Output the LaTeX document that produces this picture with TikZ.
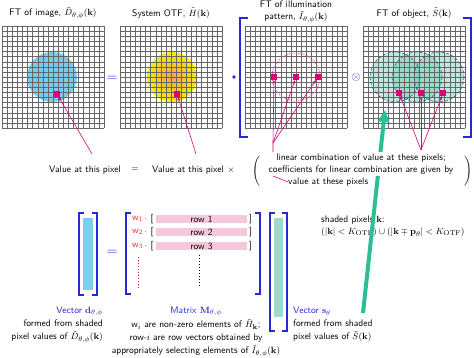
\documentclass[tikz,border=0pt]{standalone}
\usetikzlibrary{arrows.meta}
\definecolor{bbl}{RGB}{40,40,215}
\definecolor{pk}{RGB}{220,0,120}
\definecolor{cyanc}{RGB}{120,205,238}
\definecolor{tealc}{RGB}{46,190,150}
\definecolor{tealf}{RGB}{110,205,178}
\definecolor{rowpk}{RGB}{246,200,220}
\definecolor{barbl}{RGB}{125,205,240}
\definecolor{bargr}{RGB}{155,220,200}
\definecolor{wred}{RGB}{225,40,40}
\definecolor{circdash}{RGB}{40,95,140}
\definecolor{yel}{RGB}{245,238,0}
\definecolor{org}{RGB}{240,165,80}
\tikzset{
  gridl/.style={draw=black!60, line width=0.3pt},
  sq/.style={fill=pk, minimum size=5.5pt, inner sep=0pt},
  pkarrow/.style={draw=pk, line width=0.6pt, -{Stealth[length=4pt,width=3pt]}},
  pkline/.style={draw=pk, line width=0.6pt},
  brk/.style={draw=bbl, line width=1.2pt},
  tealarrow/.style={draw=tealc, line width=4pt, -{Triangle[length=12pt,width=11pt]}},
  bluetxt/.style={text=bbl},
  bigeq/.style={text=bbl, font=\fontsize{15}{15}\selectfont},
}
\begin{document}
\begin{tikzpicture}[x=1pt,y=-1pt,
  every node/.style={font=\fontsize{9.5}{12.5}\selectfont\sffamily, inner sep=0pt}]
\useasboundingbox (0,0) rectangle (474,358);
% circles under grids
\fill[cyanc] (52,77) circle[radius=25];
\shade[inner color=org, outer color=yel] (172,77) circle[radius=25];
\foreach \cx in {395,417,439}
  \fill[tealf, fill opacity=0.45] (\cx,77) circle[radius=25];
% grids
\foreach \gx in {2,120,245,363}{
  \foreach \i in {0,...,20}{
    \draw[gridl] ({\gx+\i*5.1},26) -- ({\gx+\i*5.1},128);
    \draw[gridl] (\gx,{26+\i*5.1}) -- ({\gx+102},{26+\i*5.1});
  }
}
\draw[pk!65, dash pattern=on 1pt off 1.3pt, line width=1pt] (296,77) circle[radius=24];
\foreach \cx in {395,417,439}
  \draw[circdash, densely dashed, line width=0.6pt] (\cx,77) circle[radius=25];
% titles
\node (t1) at (53,13) {FT of image, $\tilde{D}_{\theta,\phi}(\mathbf{k})$};
\node (t2) at (171,13) {System OTF, $\tilde{H}(\mathbf{k})$};
\node[align=center] (t3) at (296,11.8) {FT of illumination\\pattern, $\tilde{I}_{\theta,\phi}(\mathbf{k})$};
\node (t4) at (414,13) {FT of object, $\tilde{S}(\mathbf{k})$};
% operators
\node[bigeq] (eq1) at (112,79) {$=$};
\node[circle, fill=bbl, minimum size=3.8pt] (dt) at (234,77) {};
\node[text=bbl, font=\fontsize{12}{12}\selectfont] (ot) at (356,78) {$\otimes$};
\draw[brk] (248,18) -- (240,18) -- (240,137) -- (248,137);
\draw[brk] (463,18) -- (471,18) -- (471,137) -- (463,137);
% squares
\node[sq] (s1) at (57,94) {};
\node[sq] (s2) at (177,94) {};
\node[sq] (s3a) at (274,77) {};
\node[sq] (s3b) at (296,77) {};
\node[sq] (s3c) at (318,77) {};
\node[sq] (s4a) at (399,93) {};
\node[sq] (s4b) at (421,93) {};
\node[sq] (s4c) at (443,93) {};
% middle text
\node (v1) at (85,170) {Value at this pixel};
\node (eq2) at (135,170) {$=$};
\node (v2) at (188,170) {Value at this pixel};
\node (tm) at (231,170) {$\times$};
\node (lp) at (256,171) {$\Bigg($};
\node (rp) at (468,171) {$\Bigg)$};
\node[anchor=west] (lc3) at (288,182) {value at these pixels};
% pink connectors
\coordinate (c1) at (92,154);
\coordinate (c2) at (196,154);
\coordinate (j3) at (273,143);
\coordinate (k3) at (273,176);
\coordinate (j4) at (421,150);
\draw[pkarrow] (c1) -- (s1);
\draw[pkarrow] (c2) -- (s2);
\foreach \s in {s3a,s3b,s3c} \draw[pkarrow] (j3) -- (\s);
\draw[pkline] (j3) -- (k3) -- (lc3.west);
\foreach \s in {s4a,s4b,s4c} \draw[pkarrow] (j4) -- (\s);
% shaded pixels text
\node[anchor=west] (sp1) at (321,220) {shaded pixels $\mathbf{k}$:};
\node[anchor=west] (sp2) at (321,232) {$(|\mathbf{k}|<K_{\mathrm{OTF}})\cup(|\mathbf{k}\mp\mathbf{p}_{\theta}|<K_{\mathrm{OTF}})$};
% teal arrow
\coordinate (tb) at (363,313);
\coordinate (tt) at (385,110);
\draw[tealarrow] (tb) -- (tt);
\node[fill=white, align=center, inner sep=1pt] (lc) at (361,164) {linear combination of value at these pixels;\\coefficients for linear combination are given by};
% bottom: vector d
\fill[barbl] (83,218) rectangle (93,290);
\draw[brk] (84,213) -- (79,213) -- (79,295) -- (84,295);
\draw[brk] (92,213) -- (97,213) -- (97,295) -- (92,295);
\node[bigeq] (eq3) at (112,253) {$=$};
% matrix
\draw[brk] (131,213) -- (126,213) -- (126,294) -- (131,294);
\draw[brk] (255,213) -- (260,213) -- (260,294) -- (255,294);
\foreach \i/\y in {1/219,2/232,3/246}{
  \node[anchor=west, text=wred] (w\i) at (132,\y) {w$_{\i}$};
  \node (d\i) at (146,\y) {$\cdot$};
  \node (lb\i) at (152,\y) {[};
  \node[fill=rowpk, minimum width=91pt, minimum height=7.5pt] (row\i) at (201.5,\y) {row \i};
  \node (rb\i) at (250.5,\y) {]};
}
\draw[wred, dotted, line width=1pt] (138,257) -- (138,289);
\draw[black, dotted, line width=1pt] (199,255) -- (199,287);
% vector s
\fill[bargr] (274,218) rectangle (283,317);
\draw[brk] (275,213) -- (270,213) -- (270,331) -- (275,331);
\draw[brk] (282,213) -- (287,213) -- (287,331) -- (282,331);
% labels
\node[anchor=east, bluetxt] (vdl) at (103,311.5) {Vector $\mathbf{d}_{\theta,\phi}$};
\node[anchor=north east, align=right, font=\fontsize{9.5}{13}\selectfont\sffamily] (vdt) at (103,319.5) {formed from shaded\\pixel values of $\tilde{D}_{\theta,\phi}(\mathbf{k})$};
\node[bluetxt] (mml) at (196,311.5) {Matrix $\mathbf{M}_{\theta,\phi}$};
\node[anchor=north, align=center, font=\fontsize{9.5}{13}\selectfont\sffamily] (mmt) at (196,319.5) {w$_i$ are non-zero elements of $\tilde{H}_{\mathbf{k}}$;\\row-$i$ are row vectors obtained by\\appropriately selecting elements of $\tilde{I}_{\theta,\phi}(\mathbf{k})$};
\node[anchor=west, bluetxt] (vsl) at (293,311.5) {Vector $\mathbf{s}_{\theta}$};
\node[anchor=north west, align=left, font=\fontsize{9.5}{13}\selectfont\sffamily] (vst) at (293,319.5) {formed from shaded\\pixel values of $\tilde{S}(\mathbf{k})$};
\end{tikzpicture}
\end{document}
